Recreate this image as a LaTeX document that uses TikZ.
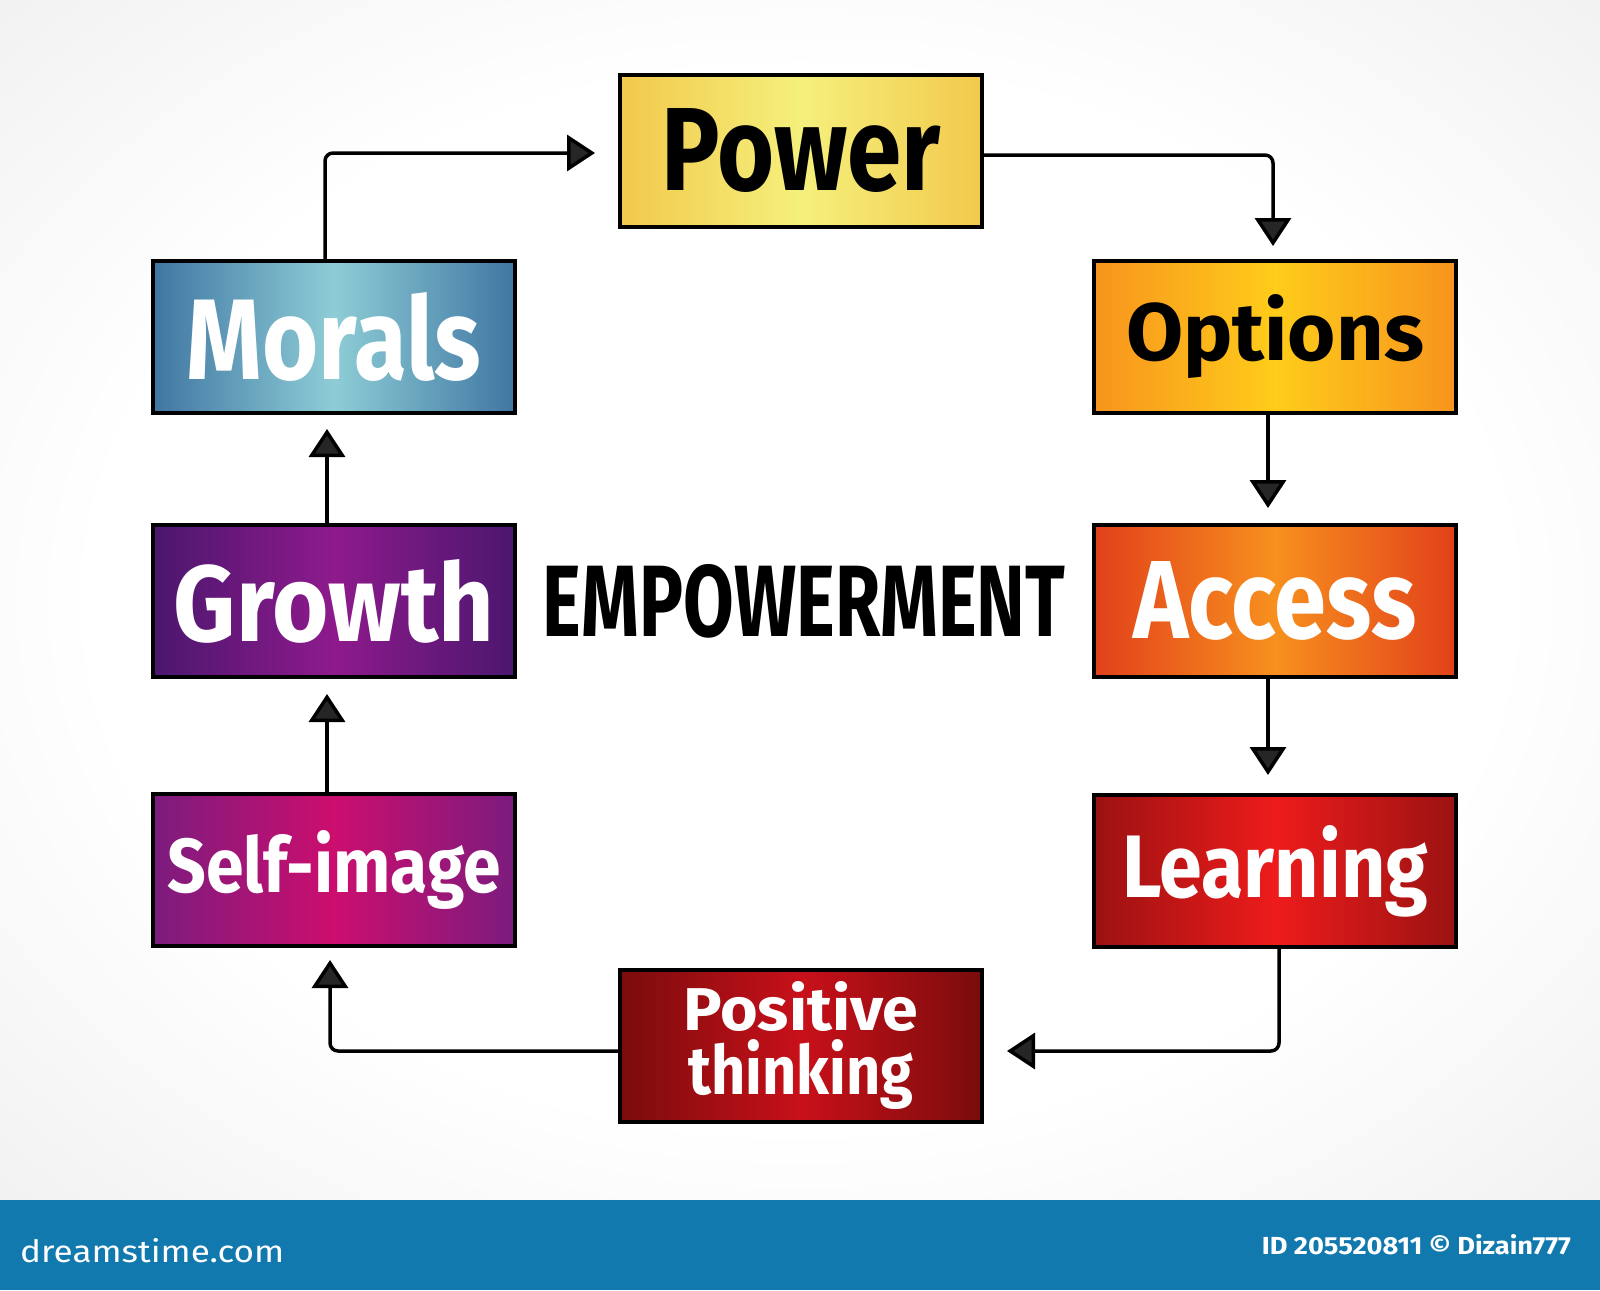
\documentclass[tikz,border=0pt]{standalone}
\usepackage{fontspec}
\setmainfont{Fira Sans}
\usepackage{graphicx}
\usetikzlibrary{arrows.meta}
\definecolor{barblue}{HTML}{1279AF}
\definecolor{powE}{HTML}{F2C94C}\definecolor{powC}{HTML}{F5F07C}
\definecolor{optE}{HTML}{F7941D}\definecolor{optC}{HTML}{FFCC1A}
\definecolor{accE}{HTML}{E2401A}\definecolor{accC}{HTML}{F7901E}
\definecolor{lrnE}{HTML}{9B1212}\definecolor{lrnC}{HTML}{EE1B1B}
\definecolor{posE}{HTML}{7A0C0C}\definecolor{posC}{HTML}{C8101A}
\definecolor{slfE}{HTML}{7B1C7E}\definecolor{slfC}{HTML}{CC0E6E}
\definecolor{grwE}{HTML}{4B176E}\definecolor{grwC}{HTML}{8E1A8C}
\definecolor{morE}{HTML}{3F76A2}\definecolor{morC}{HTML}{8ECDD6}
\pgfdeclareradialshading{bgshade}{\pgfpoint{0bp}{0bp}}{color(0bp)=(white); color(22bp)=(white); color(50bp)=(black!11); color(72bp)=(black!15)}
\newcommand{\fitt}[3]{\resizebox{#1pt}{#2pt}{\bfseries #3}}
\begin{document}
\begin{tikzpicture}[x=1pt,y=-1pt,
  mbox/.style 2 args={draw=black, line width=4pt, minimum width=362pt, minimum height=152pt,
    inner sep=0pt, left color=#1, right color=#1, middle color=#2},
  conn/.style={line width=3.5pt, rounded corners=8pt, line join=round,
    -{Triangle[width=36pt,length=28pt,fill=black!85]}},
  lbl/.style={inner sep=0pt}]
\useasboundingbox (0,0) rectangle (1600,1290);
\shade[shading=bgshade] (0,0) rectangle (1600,1200);
\fill[barblue] (0,1200) rectangle (1600,1290);

\node[mbox={powE}{powC}, text=black] (power) at (801,151) {\fitt{279}{82}{Power}};
\node[mbox={optE}{optC}, text=black] (options) at (1275,337) {\fitt{298}{66}{Options}};
\node[mbox={accE}{accC}, text=white] (access) at (1275,601) {\fitt{283}{77}{Access}};
\node[mbox={lrnE}{lrnC}, text=white] (learning) at (1275,871) {\fitt{306}{72}{Learning}};
\node[mbox={posE}{posC}, text=white, align=center, font=\fontsize{20}{64}\selectfont] (positive) at (801,1046)
  {\fitt{235}{49}{Positive}\\\fitt{225}{55}{thinking}};
\node[mbox={slfE}{slfC}, text=white] (selfimage) at (334,870) {\fitt{333}{62}{Self-image}};
\node[mbox={grwE}{grwC}, text=white] (growth) at (334,601) {\fitt{320}{82}{Growth}};
\node[mbox={morE}{morC}, text=white] (morals) at (334,337) {\fitt{294}{87}{Morals}};

\node[lbl, text=black] (empower) at (804,601) {\fitt{522}{72}{EMPOWERMENT}};

\draw[conn] ([xshift=-9pt]morals.north) |- ([xshift=-23pt,yshift=-2pt]power.west);
\draw[conn] ([yshift=-4pt]power.east) -| ([xshift=-2pt,yshift=13pt]options.north);
\draw[conn] ([xshift=-7pt]options.south) -- ([xshift=-7pt,yshift=15pt]access.north);
\draw[conn] ([xshift=-7pt]access.south) -- ([xshift=-7pt,yshift=18pt]learning.north);
\draw[conn] ([xshift=4pt]learning.south) |- ([xshift=23pt,yshift=-5pt]positive.east);
\draw[conn] ([yshift=-5pt]positive.west) -| ([xshift=-4pt,yshift=-12pt]selfimage.south);
\draw[conn] ([xshift=-7pt]selfimage.north) -- ([xshift=-7pt,yshift=-15pt]growth.south);
\draw[conn] ([xshift=-7pt]growth.north) -- ([xshift=-7pt,yshift=-14pt]morals.south);

\node[lbl, anchor=base west, text=white] (dt) at (20,1262) {\resizebox{264pt}{24pt}{dreamstime.com}};
\node[lbl, anchor=base east, text=white] (idtext) at (1571,1254) {\fitt{309}{20}{ID 205520811 © Dizain777}};
\end{tikzpicture}
\end{document}
